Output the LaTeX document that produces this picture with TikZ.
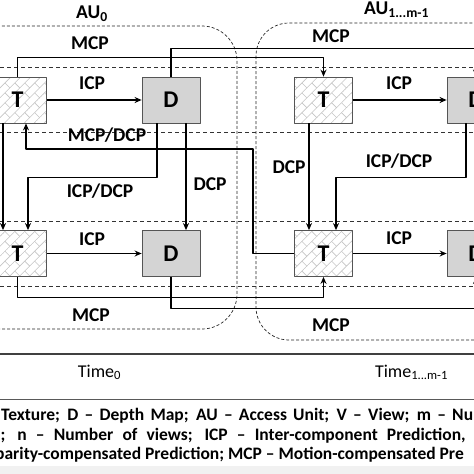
\documentclass[tikz,border=0pt]{standalone}
\usepackage{fontspec}
\setmainfont{Carlito}
\usetikzlibrary{patterns.meta,arrows.meta}

\definecolor{hatchgray}{HTML}{C4C4C4}
\definecolor{boxgray}{HTML}{D4D4D4}
\definecolor{edgegray}{HTML}{555555}
\definecolor{bandgray}{HTML}{F1F1F1}

\tikzdeclarepattern{
  name=diagbricks,
  type=colored,
  bottom left={(-0.5pt,-0.5pt)},
  top right={(14.5pt,14.5pt)},
  tile size={(14pt,14pt)},
  tile transformation={rotate=45},
  code={
    \draw[line width=0.6pt, draw=hatchgray]
      (0pt,0pt) -- (14pt,0pt) (0pt,7pt) -- (14pt,7pt)
      (0pt,0pt) -- (0pt,7pt) (7pt,7pt) -- (7pt,14pt);
  }
}

\tikzset{
  box/.style={draw=edgegray, line width=0.8pt, minimum width=58pt, minimum height=46pt,
    inner sep=0pt, font=\fontsize{24}{24}\selectfont\bfseries},
  tex/.style={box, pattern=diagbricks},
  dep/.style={box, fill=boxgray},
  lbl/.style={font=\fontsize{19.5}{19.5}\selectfont\bfseries, inner sep=0pt, anchor=base},
  time/.style={font=\fontsize{18}{18}\selectfont, inner sep=0pt, anchor=base},
  note/.style={font=\fontsize{17.5}{17.5}\selectfont\bfseries, inner sep=0pt, anchor=base west},
  link/.style={line width=1.3pt, ->},
  band/.style={line width=0.8pt, draw=black!80, dash pattern=on 4pt off 3pt},
  unit/.style={line width=0.7pt, draw=black!85, dash pattern=on 3pt off 2pt}
}

\begin{document}
\begin{tikzpicture}[x=1pt, y=1pt, line join=round, >={Stealth[length=7pt,width=6pt]}]
	\useasboundingbox (0,0) rectangle (474,-474);
	\clip (0,0) rectangle (474,-474);
	\def \rowa{-100};
	\def \rowb{-253.5};
	% access units and view bands
	\draw[unit, rounded corners=35pt] (-60,-26) rectangle (237,-329);
	\draw[unit, rounded corners=33pt] (256,-23) rectangle (540,-340);
	\foreach \y in {-67,-132,-221,-286}
		\draw[band] (0,\y) -- (474,\y);
	% texture and depth
	\node[tex] (T00) at (17.5,\rowa) {T};
	\node[dep] (D00) at (171,\rowa) {D};
	\node[tex] (T10) at (323.5,\rowa) {T};
	\node[dep] (D10) at (476,\rowa) {D};
	\node[tex] (T01) at (17.5,\rowb) {T};
	\node[dep] (D01) at (171,\rowb) {D};
	\node[tex] (T11) at (323.5,\rowb) {T};
	\node[dep] (D11) at (476,\rowb) {D};
	% predictions
	\draw[link] (T00.east) -- (D00.west);
	\draw[link] (T10.east) -- (D10.west);
	\draw[link] (T01.east) -- (D01.west);
	\draw[link] (T11.east) -- (D11.west);
	\draw[link] (T00.north) -- ++(0,19) -| (T10.north);
	\draw[link] (D00.north) -- ++(0,28) -| (D10.north);
	\draw[link] (T01.south) -- ++(0,-20.5) -| (T11.south);
	\draw[link] (D01.south) -- ++(0,-31.5) -| (D11.south);
	\draw[link] ([xshift=-14.5pt]T00.south) -- ([xshift=-14.5pt]T01.north);
	\draw[link] ([xshift=15pt]D00.south) -- ([xshift=15pt]D01.north);
	\draw[link] ([xshift=-14.5pt]T10.south) -- ([xshift=-14.5pt]T11.north);
	\draw[link] ([xshift=-14pt]D00.south) -- ++(0,-54) -| ([xshift=10.5pt]T01.north);
	\draw[link] ([xshift=-10pt]D10.south) -- ++(0,-54) -| ([xshift=12.5pt]T11.north);
	\draw[link] (T11.west) -- ++(-41,0) |- (26,-149) -- ([xshift=8.5pt]T00.south);
	% labels
	\node[lbl] (au0) at (92,-18.5) {AU\textsubscript{0}};
	\node[lbl, anchor=base west] (au1) at (364,-14) {AU\textsubscript{1...m-1}};
	\node[lbl] (mcpa) at (90,-49) {MCP};
	\node[lbl] (mcpb) at (331,-42) {MCP};
	\node[lbl] (icpa) at (92,-89) {ICP};
	\node[lbl] (icpb) at (399,-89) {ICP};
	\node[lbl] (mdcp) at (107,-141) {MCP/DCP};
	\node[lbl] (idcpa) at (100,-197) {ICP/DCP};
	\node[lbl] (idcpb) at (399,-167) {ICP/DCP};
	\node[lbl] (dcpa) at (210,-190) {DCP};
	\node[lbl] (dcpb) at (289,-173) {DCP};
	\node[lbl] (icpc) at (92,-245) {ICP};
	\node[lbl] (icpd) at (399,-244) {ICP};
	\node[lbl] (mcpc) at (91,-321) {MCP};
	\node[lbl] (mcpd) at (331,-331) {MCP};
	% time axis and legend
	\draw[line width=1.5pt, black!75] (0,-354) -- (474,-354);
	\draw[line width=1pt, black!65] (0,-399) -- (474,-399);
	\node[time] (t0) at (99.5,-377) {Time\textsubscript{0}};
	\node[time] (t1) at (411.5,-377) {Time\textsubscript{1...m-1}};
	\node[note] (na) at (1,-420) {\makebox[472pt][s]{Texture; D – Depth Map; AU – Access Unit; V – View; m – Nu}};
	\node[note] (nb) at (0.5,-440) {\makebox[465pt][s]{; n – Number of views; ICP – Inter-component Prediction,}};
	\node[note] (nc) at (-5,-459) {parity-compensated Prediction; MCP – Motion-compensated Pre};
	\fill[bandgray] (0,-466) rectangle (474,-474);
\end{tikzpicture}
\end{document}
